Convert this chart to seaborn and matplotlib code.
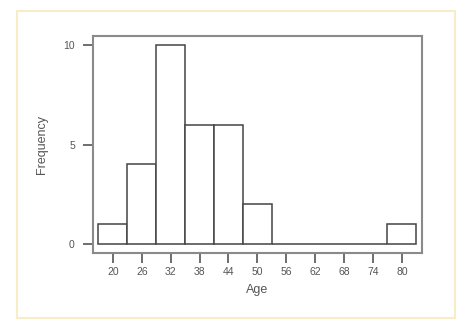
import seaborn as sns
import matplotlib.pyplot as plt
from matplotlib.patches import Rectangle

# bin centres (Age) and counts
age_mid = [20, 26, 32, 38, 44, 50, 56, 62, 68, 74, 80]
freq = [1, 4, 10, 6, 6, 2, 0, 0, 0, 0, 1]
bin_edges = [17, 23, 29, 35, 41, 47, 53, 59, 65, 71, 77, 83]

sns.set_style('white')
plt.rcParams['font.family'] = ['Liberation Sans', 'DejaVu Sans']

fig = plt.figure(figsize=(4.74, 3.33), dpi=100)
ax = fig.add_axes([0.196, 0.240, 0.694, 0.652])

sns.histplot(x=age_mid, weights=freq, bins=bin_edges, ax=ax,
             color='white', edgecolor='#444444', linewidth=1.1, alpha=1)

ax.set_xlim(15.85, 84.15)
ax.set_ylim(-0.45, 10.45)
ax.set_xticks(age_mid)
ax.set_yticks([0, 5, 10])
ax.set_xlabel('Age', fontsize=9, color='#555555', labelpad=5)
ax.set_ylabel('Frequency', fontsize=9, color='#555555', labelpad=11)
ax.tick_params(axis='both', which='major', labelsize=7.5, colors='#555555',
               length=7, width=1.2, direction='out', bottom=True, left=True)
ax.tick_params(axis='x', pad=3)
ax.tick_params(axis='y', pad=6)
for s in ax.spines.values():
    s.set_color('#8a8a8a')
    s.set_linewidth(1.5)

# pale outer frame
fig.patches.append(Rectangle((0.036, 0.045), 0.924, 0.922, transform=fig.transFigure,
                             fill=False, edgecolor='#f9edc8', linewidth=1.5))

fig.savefig('out.png', dpi=100)
